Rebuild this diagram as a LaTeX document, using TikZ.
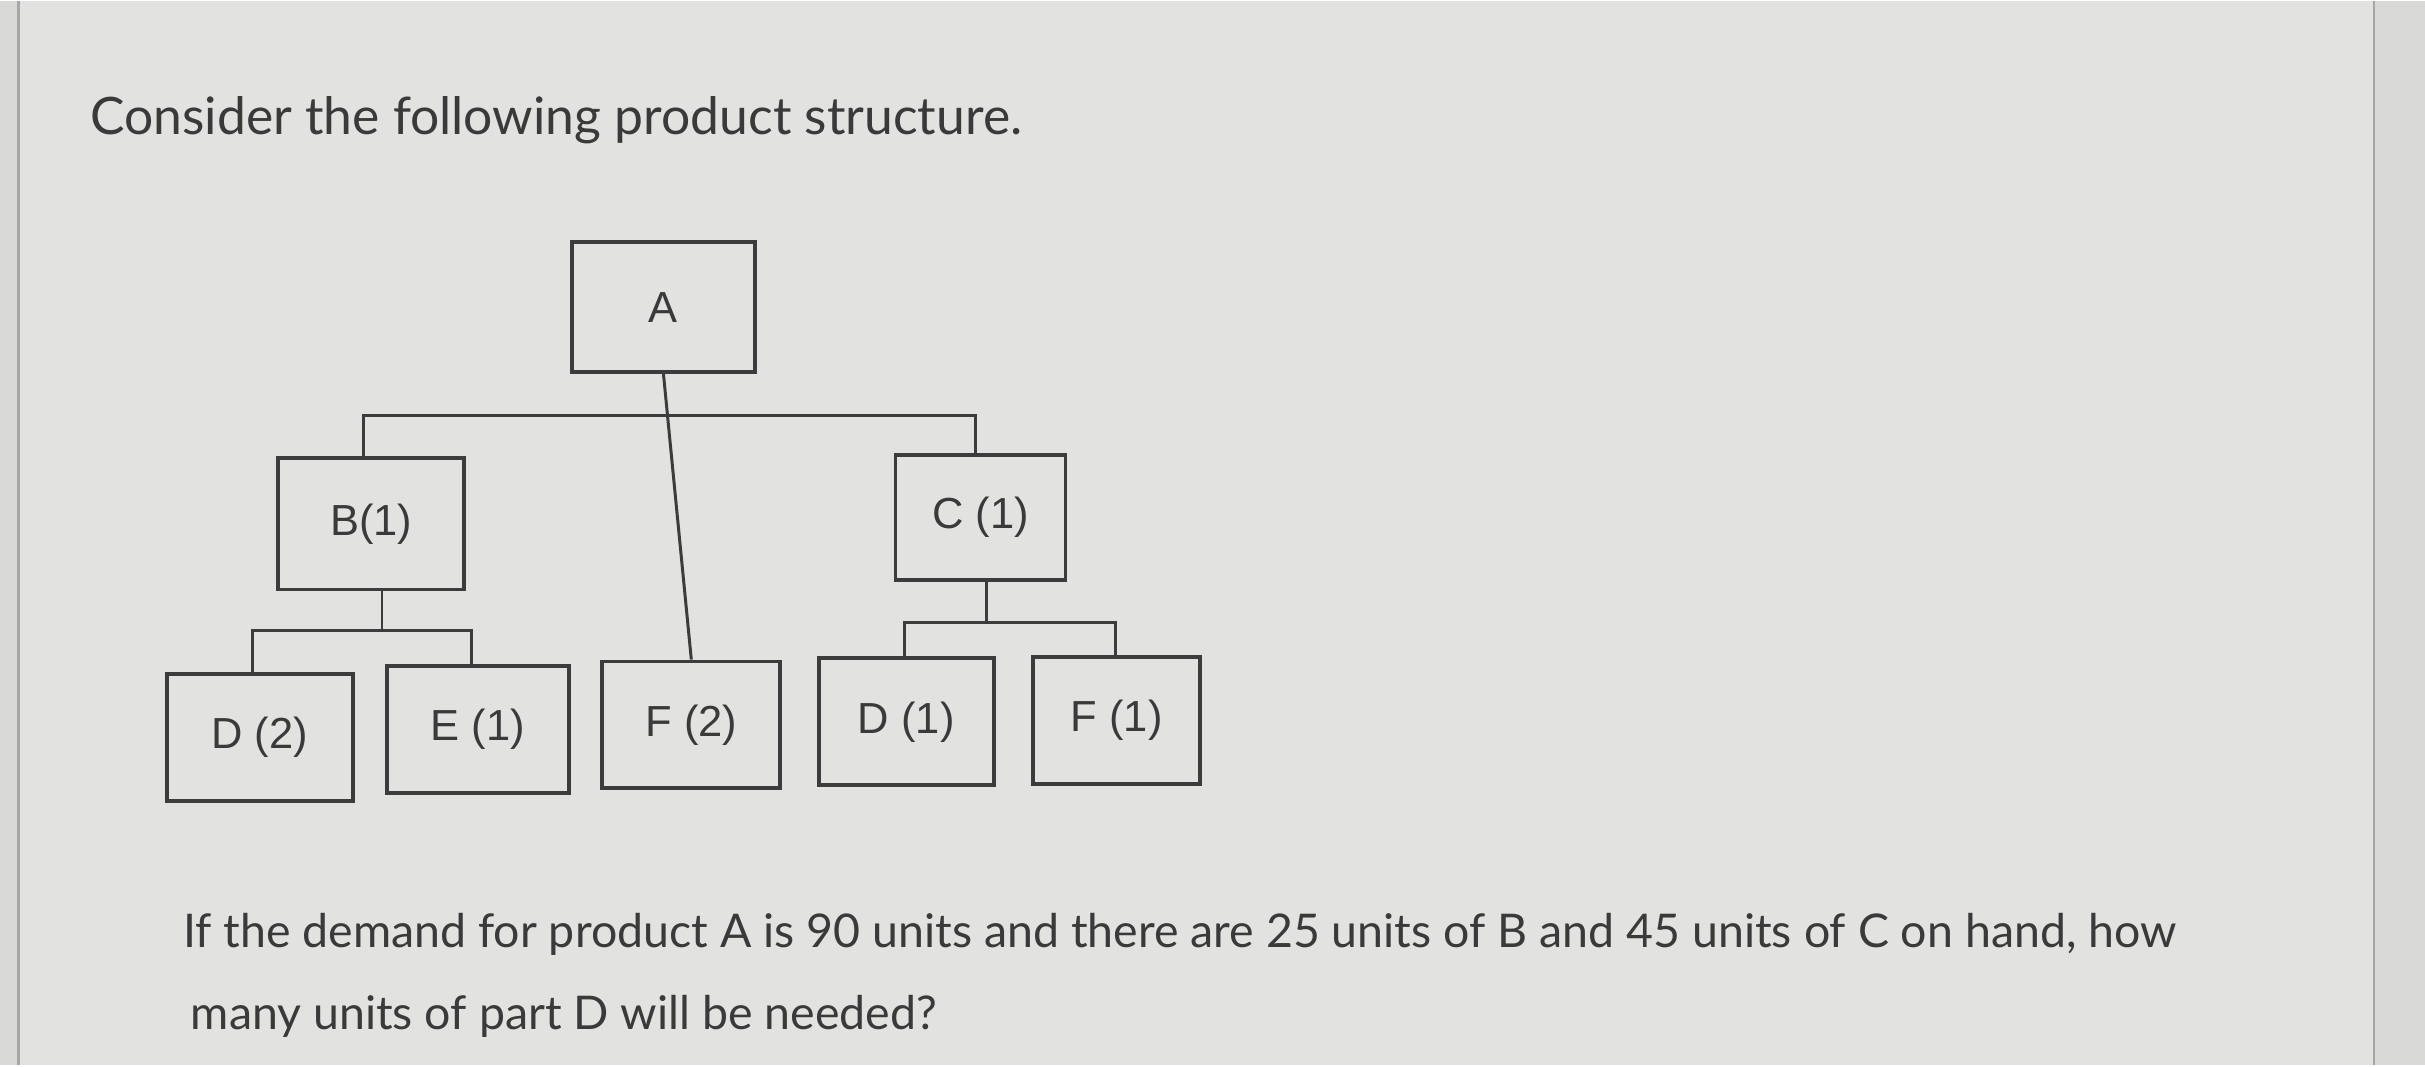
\documentclass[tikz,border=0pt]{standalone}
\usepackage{fontspec}
\setmainfont{Lato}
\newfontfamily\boxfont{Liberation Sans}
\definecolor{bg}{HTML}{D9D9D7}
\definecolor{panel}{HTML}{E2E2E0}
\definecolor{ink}{HTML}{3A3A3A}
\definecolor{lineink}{HTML}{3C3C3C}
\begin{document}
\begin{tikzpicture}[x=0.02cm,y=-0.02cm,
  part/.style={draw=lineink,line width=1.4pt,minimum width=#1,minimum height=82*0.02cm,inner sep=0pt,
    font=\boxfont\fontsize{16}{18}\selectfont,text=ink},
  part/.default={118*0.02cm},
  link/.style={draw=lineink,line width=1.1pt},
  txt/.style={anchor=base west,inner sep=0pt,text=ink,font=\fontsize{19}{23}\selectfont},
  qtxt/.style={txt,font=\fontsize{17.1}{21}\selectfont}]
\fill[bg] (0,0) rectangle (1568,688);
\fill[panel] (12,0) rectangle (1535,688);
\draw[gray!70,line width=0.8pt] (12,0) -- (12,688);
\draw[gray!70,line width=0.8pt] (1535,0) -- (1535,688);
\useasboundingbox (0,0) rectangle (1568,688);

\node[txt] (title) at (58,86) {Consider the following product structure.};

\node[part={118*0.02cm}, minimum height=84*0.02cm] (A) at (429,198) {A};
\node[part={120*0.02cm}, minimum height=85*0.02cm] (B) at (240,338) {B(1)};
\node[part={110*0.02cm}, minimum height=81*0.02cm] (C) at (634,334) {C (1)};
\node[part={120*0.02cm}] (D2) at (168,476) {D (2)};
\node[part={118*0.02cm}] (E1) at (309,471) {E (1)};
\node[part={115*0.02cm}] (F2) at (447,468) {F (2)};
\node[part={113*0.02cm}] (D1) at (586,466) {D (1)};
\node[part={108*0.02cm}] (F1) at (722,465) {F (1)};

% level 1 bar
\coordinate (bl) at (235,268);
\coordinate (br) at (631,268);
\draw[link] (A.south) -- (F2.north);
\draw[link] (B.north -| bl) -- (bl) -- (br) -- (C.north -| br);

% B children
\coordinate (bs) at (247,407);
\coordinate (bbl) at (163,407);
\coordinate (bbr) at (305,407);
\draw[link] (B.south -| bs) -- (bs);
\draw[link] (D2.north -| bbl) -- (bbl) -- (bbr) -- (E1.north -| bbr);

% C children
\coordinate (cs) at (638,402);
\coordinate (cbl) at (585,402);
\coordinate (cbr) at (721,402);
\draw[link] (C.south -| cs) -- (cs);
\draw[link] (D1.north -| cbl) -- (cbl) -- (cbr) -- (F1.north -| cbr);

\node[qtxt] (q1) at (118,612) {If the demand for product A is 90 units and there are 25 units of B and 45 units of C on hand, how};
\node[qtxt] (q2) at (123,665) {many units of part D will be needed?};
\end{tikzpicture}
\end{document}
